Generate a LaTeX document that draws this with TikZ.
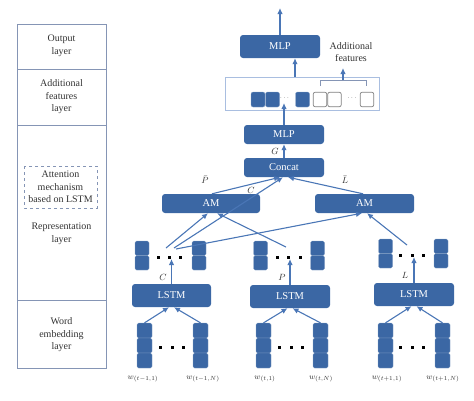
\documentclass[tikz,border=0pt]{standalone}
\usepackage{fontspec}
\setmainfont{Liberation Serif}
\usetikzlibrary{arrows.meta}
\definecolor{bfill}{HTML}{3B67A4}
\definecolor{barrow}{HTML}{4A76B6}
\definecolor{frame}{HTML}{8595B5}
\definecolor{contc}{HTML}{A9BEE0}
\definecolor{txt}{HTML}{333333}
\begin{document}
\begin{tikzpicture}[x=1pt,y=-1pt,
 blk/.style={fill=bfill, rounded corners=3pt, text=white, font=\fontsize{10.5}{12}\selectfont, inner sep=0pt},
 arr/.style={draw=barrow, line width=1.1pt, -{Latex[length=6pt,width=5.5pt]}},
 cell/.style={fill=bfill, draw=bfill!60!white, line width=0.3pt, rounded corners=1.5pt, minimum width=14pt, minimum height=14.5pt, inner sep=0pt},
 wcell/.style={cell, minimum width=15pt, minimum height=15pt},
 ecell/.style={fill=white, draw=gray, line width=0.7pt, rounded corners=2pt, minimum width=13.5pt, minimum height=14.5pt, inner sep=0pt},
 fcell/.style={fill=bfill, draw=bfill!60!white, line width=0.3pt, rounded corners=2pt, minimum width=14pt, minimum height=15pt, inner sep=0pt},
 dotn/.style={fill=black, minimum size=3pt, inner sep=0pt},
 lbl/.style={font=\fontsize{10}{12.5}\selectfont, align=center, text=txt},
 mlbl/.style={font=\fontsize{9.5}{11}\selectfont, text=txt, inner sep=0pt},
 wlbl/.style={font=\fontsize{8.5}{10}\selectfont, text=txt, inner sep=0pt}]
\useasboundingbox (0,0) rectangle (474,400);
% ---------- left column ----------
\draw[frame, line width=0.9pt] (17,24) rectangle (106,368);
\draw[frame, line width=0.9pt] (17,69) -- (106,69);
\draw[frame, line width=0.9pt] (17,125) -- (106,125);
\draw[frame, line width=0.9pt] (17,300) -- (106,300);
\node[lbl] (lout) at (61.5,46) {Output\\layer};
\node[lbl] (ladd) at (61.5,97) {Additional\\features\\layer};
\draw[frame, dashed, line width=0.8pt] (24,166) rectangle (97,208);
\node[lbl] (latt) at (60.5,187) {Attention\\mechanism\\based on LSTM};
\node[lbl] (lrep) at (61.5,234) {Representation\\layer};
\node[lbl] (lwrd) at (61.5,335) {Word\\embedding\\layer};
% ---------- main blocks ----------
\node[blk, minimum width=80pt, minimum height=23pt] (mlp1) at (280,46.5) {MLP};
\node[blk, minimum width=80pt, minimum height=19pt] (mlp2) at (284,134.5) {MLP};
\node[blk, minimum width=80pt, minimum height=19pt] (concat) at (284,167.5) {Concat};
\node[blk, minimum width=98pt, minimum height=19pt] (aml) at (211,203.5) {AM};
\node[blk, minimum width=99pt, minimum height=19pt] (amr) at (364.5,203.5) {AM};
\node[blk, minimum width=79pt, minimum height=23pt] (lstml) at (171.5,295.5) {LSTM};
\node[blk, minimum width=80pt, minimum height=23pt] (lstmm) at (290,296.5) {LSTM};
\node[blk, minimum width=80pt, minimum height=23pt] (lstmr) at (414,294.5) {LSTM};
% ---------- feature container ----------
\node[draw=contc, line width=0.9pt, minimum width=154pt, minimum height=33pt, inner sep=0pt] (cont) at (302,93.5) {};
\node[fcell] (f1) at (258,99.5) {};
\node[fcell] (f2) at (272.5,99.5) {};
\node[mlbl, font=\fontsize{6}{6}\selectfont] (fd1) at (284.5,98) {$\cdots$};
\node[fcell] (f3) at (302.5,99.5) {};
\node[ecell] (e1) at (320,99.5) {};
\node[ecell] (e2) at (334.5,99.5) {};
\node[mlbl, font=\fontsize{6}{6}\selectfont] (ed1) at (352,98) {$\cdots$};
\node[ecell] (e3) at (367,99.5) {};
\draw[frame, line width=0.9pt] (320,86) -- (320,80) -- (366,80) -- (366,86);
\coordinate (brk) at (343,80);
\coordinate (brktop) at (343,68);
\node[lbl, font=\fontsize{10}{12}\selectfont] (addf) at (351,52) {Additional\\features};
% ---------- hidden vectors ----------
\foreach \n/\x/\y in {hl1/142/241, hl2/199/241, hm1/260.5/241, hm2/317.5/241, hr1/385.5/239, hr2/441/239}{
  \node[cell] (\n a) at (\x,\y+7.25) {};
  \node[cell] (\n b) at (\x,\y+21.75) {};
}
\foreach \n/\x/\y in {dl1/158/257, dl2/169/257, dl3/180/257, dm1/277/257, dm2/288.5/257, dm3/300/257, dr1/400/255, dr2/412/255, dr3/423/255}{
  \node[dotn] (\n) at (\x,\y) {};
}
% ---------- word vectors ----------
\foreach \n/\x in {wl1/144.5, wl2/200.5, wm1/263.5, wm2/320.5, wr1/385.5, wr2/442.5}{
  \node[wcell] (\n a) at (\x,330.5) {};
  \node[wcell] (\n b) at (\x,345.5) {};
  \node[wcell] (\n c) at (\x,360.5) {};
}
\foreach \n/\x in {el1/160, el2/172, el3/183.5, em1/279, em2/291, em3/302.5, er1/400, er2/412, er3/423.5}{
  \node[dotn] (\n) at (\x,347) {};
}
\node[wlbl] (t1) at (143,379) {$w_{(t-1,1)}$};
\node[wlbl] (t2) at (203,379) {$w_{(t-1,N)}$};
\node[wlbl] (t3) at (265,379) {$w_{(t,1)}$};
\node[wlbl] (t4) at (321,379) {$w_{(t,N)}$};
\node[wlbl] (t5) at (387,379) {$w_{(t+1,1)}$};
\node[wlbl] (t6) at (443,379) {$w_{(t+1,N)}$};
% ---------- arrows: word -> LSTM ----------
\draw[arr] (wl1a.north) -- ([xshift=-2.5pt]lstml.south);
\draw[arr] (wl2a.north) -- ([xshift=2.5pt]lstml.south);
\draw[arr] (wm1a.north) -- ([xshift=-2.5pt]lstmm.south);
\draw[arr] (wm2a.north) -- ([xshift=2.5pt]lstmm.south);
\draw[arr] (wr1a.north) -- ([xshift=-2.5pt]lstmr.south);
\draw[arr] (wr2a.north) -- ([xshift=2.5pt]lstmr.south);
% ---------- LSTM -> hidden ----------
\coordinate (hl) at (171.5,259);
\coordinate (hm) at (290,259);
\coordinate (hr) at (414,257);
\draw[arr] (lstml.north) -- (hl);
\draw[arr] (lstmm.north) -- (hm);
\draw[arr] (lstmr.north) -- (hr);
\node[mlbl] (lC) at (163,277) {$C$};
\node[mlbl] (lP) at (282,277) {$P$};
\node[mlbl] (lL) at (405,275) {$L$};
% ---------- hidden -> AM / Concat ----------
\coordinate (cA) at (166,248);
\coordinate (cB) at (174,248);
\coordinate (cC) at (176,249);
\coordinate (pA) at (286,247);
\coordinate (lA) at (407,245);
\draw[arr] (cA) -- ([xshift=-3pt]aml.south);
\draw[arr] (pA) -- ([xshift=6pt]aml.south);
\draw[arr] (cC) -- ([xshift=-2.5pt]amr.south);
\draw[arr] (lA) -- ([xshift=2.5pt]amr.south);
\draw[arr] (cB) -- ([xshift=-1pt]concat.south);
\draw[arr] ([xshift=1pt]aml.north) -- ([xshift=-4pt]concat.south);
\draw[arr] ([xshift=-1.5pt]amr.north) -- ([xshift=4pt]concat.south);
\node[mlbl] (lPb) at (205,180) {$\bar{P}$};
\node[mlbl] (lCc) at (251,190) {$C$};
\node[mlbl] (lLb) at (345,180) {$\bar{L}$};
% ---------- upper arrows ----------
\draw[arr] (concat.north) -- (mlp2.south);
\node[mlbl] (lG) at (275,151) {$G$};
\coordinate (ctin) at (284,103);
\draw[arr] (mlp2.north) -- (ctin);
\coordinate (x295) at (295,0);
\draw[arr] (cont.north -| x295) -- (mlp1.south -| x295);
\coordinate (outp) at (280,8);
\draw[arr] (mlp1.north) -- (outp);
\draw[arr] (brk) -- (brktop);
\end{tikzpicture}
\end{document}
